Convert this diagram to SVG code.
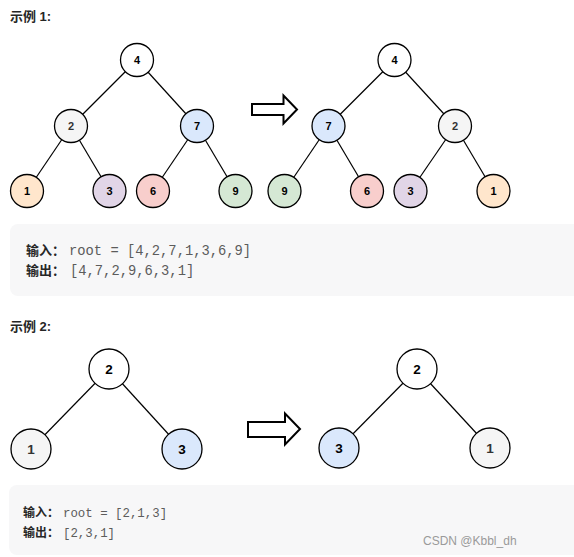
<svg xmlns="http://www.w3.org/2000/svg" width="574" height="557" viewBox="0 0 574 557">
<style>
.bg{fill:#ffffff}
.title{font-family:"Liberation Sans","Noto Sans CJK SC",sans-serif;font-weight:bold;font-size:13px;fill:#262626}
.lbl{font-family:"Liberation Sans","Noto Sans CJK SC",sans-serif;font-weight:bold;fill:#262626}
.code{font-family:"Liberation Mono",monospace;fill:#5c5c5c}
.box{fill:#f7f7f8}
.edge{stroke:#000;stroke-width:1.2;fill:none}
.n circle{stroke:#000;stroke-width:1.3}
.n text{font-family:"Liberation Sans",Arial,sans-serif;font-weight:bold;text-anchor:middle;fill:#000}
.s1 text{font-size:11px}
.s2 text{font-size:13.5px}
.arrow{fill:#fff;stroke:#000;stroke-width:2;stroke-linejoin:miter}
.wm{font-family:"Liberation Sans",Arial,sans-serif;font-size:12px;fill:#9a9a9a}
</style>
<rect class="bg" x="0" y="0" width="574" height="557"/>
<text class="title" x="10" y="21">示例 1:</text>
<text class="title" x="10" y="331">示例 2:</text>

<g id="connectors">
<line class="edge" x1="137" y1="60" x2="71" y2="126"/>
<line class="edge" x1="137" y1="60" x2="197" y2="126"/>
<line class="edge" x1="71" y1="126" x2="27" y2="191"/>
<line class="edge" x1="71" y1="126" x2="109.5" y2="191"/>
<line class="edge" x1="197" y1="126" x2="153" y2="191"/>
<line class="edge" x1="197" y1="126" x2="235.5" y2="191"/>
<line class="edge" x1="394.5" y1="60" x2="328.5" y2="126"/>
<line class="edge" x1="394.5" y1="60" x2="455" y2="126"/>
<line class="edge" x1="328.5" y1="126" x2="284.5" y2="191"/>
<line class="edge" x1="328.5" y1="126" x2="367" y2="191"/>
<line class="edge" x1="455" y1="126" x2="410.5" y2="191"/>
<line class="edge" x1="455" y1="126" x2="493.5" y2="191"/>
<line class="edge" x1="109" y1="369" x2="31" y2="449"/>
<line class="edge" x1="109" y1="369" x2="182" y2="449"/>
<line class="edge" x1="417" y1="369" x2="339" y2="448"/>
<line class="edge" x1="417" y1="369" x2="490" y2="448"/>
</g>

<g id="arrow1"><polygon class="arrow" points="252,104 283.5,104 283.5,95.5 297,109.5 283.5,123.5 283.5,115 252,115"/></g>
<g id="arrow2"><polygon class="arrow" points="248,422 285,422 285,413.5 300,429 285,444.5 285,437 248,437"/></g>

<g id="t1-4" class="n s1"><circle cx="137" cy="60" r="16.5" fill="#ffffff"/><text x="137" y="64">4</text></g>
<g id="t1-2" class="n s1"><circle cx="71" cy="126" r="16.5" fill="#f5f5f5"/><text x="71" y="130" style="fill:#333">2</text></g>
<g id="t1-7" class="n s1"><circle cx="197" cy="126" r="16.5" fill="#dae8fc"/><text x="197" y="130">7</text></g>
<g id="t1-1" class="n s1"><circle cx="27" cy="191" r="16.5" fill="#ffe6cc"/><text x="27" y="195">1</text></g>
<g id="t1-3" class="n s1"><circle cx="109.5" cy="191" r="16.5" fill="#e1d5e7"/><text x="109.5" y="195">3</text></g>
<g id="t1-6" class="n s1"><circle cx="153" cy="191" r="16.5" fill="#f8cecc"/><text x="153" y="195">6</text></g>
<g id="t1-9" class="n s1"><circle cx="235.5" cy="191" r="16.5" fill="#d5e8d4"/><text x="235.5" y="195">9</text></g>

<g id="r1-4" class="n s1"><circle cx="394.5" cy="60" r="16.5" fill="#ffffff"/><text x="394.5" y="64">4</text></g>
<g id="r1-7" class="n s1"><circle cx="328.5" cy="126" r="16.5" fill="#dae8fc"/><text x="328.5" y="130">7</text></g>
<g id="r1-2" class="n s1"><circle cx="455" cy="126" r="16.5" fill="#f5f5f5"/><text x="455" y="130" style="fill:#333">2</text></g>
<g id="r1-9" class="n s1"><circle cx="284.5" cy="191" r="16.5" fill="#d5e8d4"/><text x="284.5" y="195">9</text></g>
<g id="r1-6" class="n s1"><circle cx="367" cy="191" r="16.5" fill="#f8cecc"/><text x="367" y="195">6</text></g>
<g id="r1-3" class="n s1"><circle cx="410.5" cy="191" r="16.5" fill="#e1d5e7"/><text x="410.5" y="195">3</text></g>
<g id="r1-1" class="n s1"><circle cx="493.5" cy="191" r="16.5" fill="#ffe6cc"/><text x="493.5" y="195">1</text></g>

<g id="t2-2" class="n s2"><circle cx="109" cy="369" r="20" fill="#ffffff"/><text x="109" y="374">2</text></g>
<g id="t2-1" class="n s2"><circle cx="31" cy="449" r="20" fill="#f5f5f5"/><text x="31" y="454" style="fill:#333">1</text></g>
<g id="t2-3" class="n s2"><circle cx="182" cy="449" r="20" fill="#dae8fc"/><text x="182" y="454">3</text></g>

<g id="r2-2" class="n s2"><circle cx="417" cy="369" r="20" fill="#ffffff"/><text x="417" y="374">2</text></g>
<g id="r2-3" class="n s2"><circle cx="339" cy="448" r="20" fill="#dae8fc"/><text x="339" y="453">3</text></g>
<g id="r2-1" class="n s2"><circle cx="490" cy="448" r="20" fill="#f5f5f5"/><text x="490" y="453" style="fill:#333">1</text></g>

<g id="code1">
<rect class="box" x="10" y="224" width="580" height="72" rx="8"/>
<text class="lbl" x="26" y="255" font-size="13">输入：</text>
<text class="code" x="69" y="255" font-size="13.8">root = [4,2,7,1,3,6,9]</text>
<text class="lbl" x="26" y="275" font-size="13">输出：</text>
<text class="code" x="70" y="275" font-size="13.8">[4,7,2,9,6,3,1]</text>
</g>

<g id="code2">
<rect class="box" x="9" y="485" width="580" height="70" rx="8"/>
<text class="lbl" x="23" y="517" font-size="12">输入：</text>
<text class="code" x="63" y="517" font-size="12.4">root = [2,1,3]</text>
<text class="lbl" x="23" y="537" font-size="12">输出：</text>
<text class="code" x="63" y="537" font-size="12.4">[2,3,1]</text>
<text class="wm" x="423" y="545">CSDN @Kbbl_dh</text>
</g>
</svg>
